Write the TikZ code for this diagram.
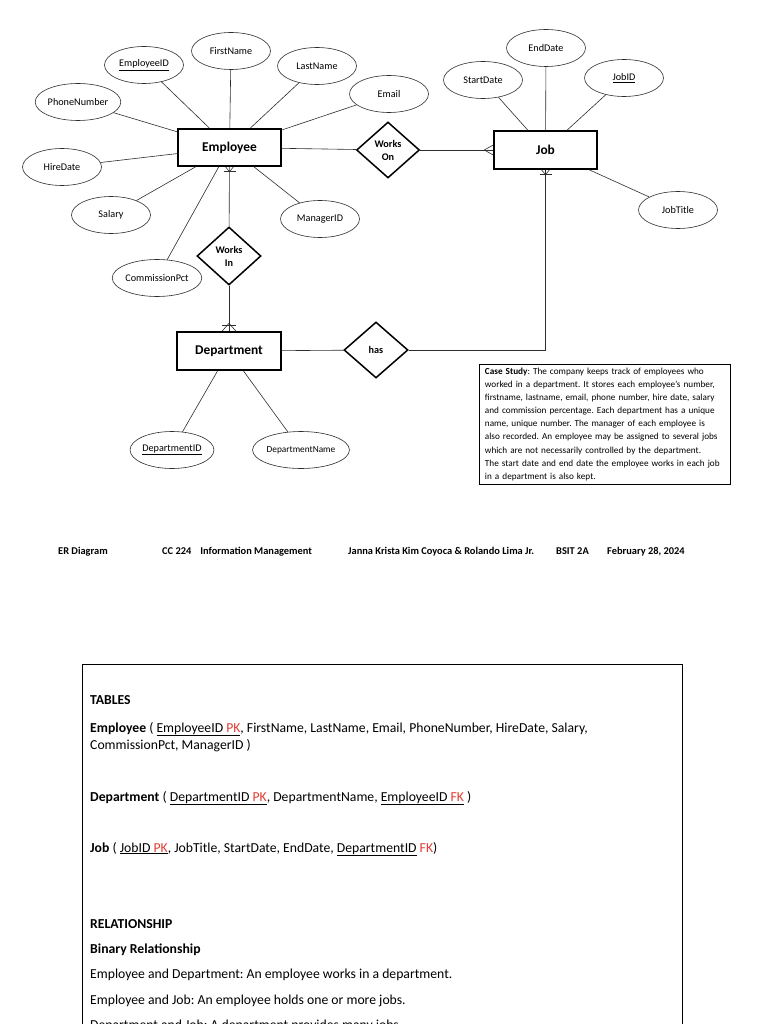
\documentclass[tikz,border=0pt]{standalone}
\usepackage{fontspec}
\setmainfont{Carlito}
\usepackage{xcolor}
\definecolor{pkred}{RGB}{226,62,52}
\definecolor{lineblack}{RGB}{45,45,45}
\usetikzlibrary{shapes.geometric,positioning}
\frenchspacing

\begin{document}
\begin{tikzpicture}[x=1pt,y=-1pt,
  entity/.style={
    rectangle, draw, line width=1.5pt,
    minimum width=103pt, minimum height=37pt,
    font=\fontsize{13.4}{15}\selectfont\bfseries
  },
  attr/.style={
    ellipse, draw=lineblack, line width=0.6pt,
    minimum width=79pt, minimum height=37pt, inner sep=0pt,
    font=\fontsize{10.2}{12}\selectfont
  },
  rel/.style={
    diamond, draw, line width=1.5pt,
    minimum width=64pt, minimum height=56pt, inner sep=0pt,
    align=center, font=\fontsize{10.2}{13}\selectfont\bfseries
  },
  conn/.style={draw=lineblack, line width=0.6pt},
  footer/.style={font=\fontsize{10.4}{12}\selectfont\bfseries, anchor=base west, inner sep=0pt},
  body/.style={font=\fontsize{13.7}{16}\selectfont, anchor=base west, inner sep=0pt}
]
\clip (0,0) rectangle (768,1024);
\fill[white] (0,0) rectangle (768,1024);

% entities
\node[entity] (emp)  at (229.5,147.5) {Employee};
\node[entity, minimum height=38pt] (job)  at (545.5,150) {Job};
\node[entity, minimum width=104pt, minimum height=38pt] (dept) at (229,351) {Department};

% relationships
\node[rel, minimum width=63pt] (workson) at (388,150) {Works\\On};
\node[rel, minimum height=58pt] (worksin) at (229,256) {Works\\In};
\node[rel, font=\fontsize{10.2}{13}\selectfont] (has) at (376,350) {\textbf{has}};

% attributes of Employee
\node[attr] (empid)   at (144,65)  {\underline{EmployeeID}};
\node[attr] (fname)   at (231,51)  {FirstName};
\node[attr] (lname)   at (317,66)  {LastName};
\node[attr] (email)   at (389,94)  {Email};
\node[attr] (phone)   at (78,102)  {PhoneNumber};
\node[attr] (hire)    at (62,167)  {HireDate};
\node[attr] (salary)  at (111,215) {Salary};
\node[attr] (commpct) at (157,278) {CommissionPct};
\node[attr] (mgrid)   at (320,219) {ManagerID};

% attributes of Job
\node[attr] (start)    at (483,80)  {StartDate};
\node[attr] (end)      at (546,48)  {EndDate};
\node[attr] (jobid)    at (624,78)  {\underline{JobID}};
\node[attr] (jobtitle) at (678,210) {JobTitle};

% attributes of Department
\node[attr] (deptid)   at (172,450) {\underline{DepartmentID}};
\node[attr, font=\fontsize{9.3}{11}\selectfont] (deptname) at (301,450) {DepartmentName};

\foreach \a in {empid,fname,lname,email,phone,hire,salary,commpct,mgrid}
  \draw[conn] (\a) -- (emp);
\foreach \a in {start,end,jobid,jobtitle}
  \draw[conn] (\a) -- (job);
\foreach \a in {deptid,deptname}
  \draw[conn] (\a) -- (dept);

% relationship lines
\draw[conn] (emp) -- (workson);
\draw[conn] (workson) -- (job);
\draw[conn] (worksin) -- (emp);
\draw[conn] (worksin) -- (dept);
\draw[conn] (dept) -- (has);
\draw[conn] (has) -| (job);

% cardinality marks
\draw[conn] ([xshift=-9pt]job.west) -- ([yshift=5pt]job.west);
\draw[conn] ([xshift=-9pt]job.west) -- ([yshift=-5pt]job.west);
\draw[conn] ([xshift=-6pt,yshift=-5pt]emp.south) -- ([xshift=6pt,yshift=-5pt]emp.south);
\draw[conn] ([yshift=-5pt]emp.south) -- ([xshift=-4pt]emp.south);
\draw[conn] ([yshift=-5pt]emp.south) -- ([xshift=4pt]emp.south);
\draw[conn] ([xshift=-6pt,yshift=-5pt]job.south) -- ([xshift=6pt,yshift=-5pt]job.south);
\draw[conn] ([yshift=-5pt]job.south) -- ([xshift=-4pt]job.south);
\draw[conn] ([yshift=-5pt]job.south) -- ([xshift=4pt]job.south);
\draw[conn] ([xshift=-7pt,yshift=6pt]dept.north) -- ([xshift=7pt,yshift=6pt]dept.north);
\draw[conn] ([yshift=8pt]dept.north) -- ([xshift=-7pt]dept.north);
\draw[conn] ([yshift=8pt]dept.north) -- ([xshift=7pt]dept.north);

% case study
\node[draw, line width=0.9pt, anchor=north west, text width=240pt, inner xsep=5.5pt, inner ysep=3.5pt,
  align=left, font=\fontsize{9.2}{13.1}\selectfont] (casestudy) at (479,364)
  {\textbf{Case Study}: The company keeps track of employees who\\
   worked in a department. It stores each employee’s number,\\
   firstname, lastname, email, phone number, hire date, salary\\
   and commission percentage. Each department has a unique\\
   name, unique number. The manager of each employee is\\
   also recorded. An employee may be assigned to several jobs\\
   which are not necessarily controlled by the department.\\
   The start date and end date the employee works in each job\\
   in a department is also kept.};

% footer line
\node[footer] (ftitle)  at (58,554)  {ER Diagram};
\node[footer] (fcourse) at (162,554) {CC 224\hspace{9pt}Information Management};
\node[footer] (fnames)  at (348,554) {Janna Krista Kim Coyoca \& Rolando Lima Jr.};
\node[footer] (fsect)   at (556,554) {BSIT 2A};
\node[footer] (fdate)   at (607,554) {February 28, 2024};

% tables box
\draw[line width=0.9pt] (82,664) rectangle (682,1040);
\node[body, font=\fontsize{13.7}{16}\selectfont\bfseries] (tabhdr) at (90,704) {TABLES};
\node[body] (tabemp) at (90,732)
  {\textbf{Employee} ( \underline{EmployeeID \textcolor{pkred}{PK}}, FirstName, LastName, Email, PhoneNumber, HireDate, Salary,};
\node[body] (tabemp2) at (90,749) {CommissionPct, ManagerID )};
\node[body] (tabdept) at (90,801)
  {\textbf{Department} ( \underline{DepartmentID \textcolor{pkred}{PK}}, DepartmentName, \underline{EmployeeID \textcolor{pkred}{FK}} )};
\node[body] (tabjob) at (90,852)
  {\textbf{Job} ( \underline{JobID \textcolor{pkred}{PK}}, JobTitle, StartDate, EndDate, \underline{DepartmentID} \textcolor{pkred}{FK})};
\node[body, font=\fontsize{13.7}{16}\selectfont\bfseries] (relhdr) at (90,928) {RELATIONSHIP};
\node[body, font=\fontsize{13.7}{16}\selectfont\bfseries] (binhdr) at (90,953) {Binary Relationship};
\node[body] (rel1) at (90,978) {Employee and Department: An employee works in a department.};
\node[body] (rel2) at (90,1004) {Employee and Job: An employee holds one or more jobs.};
\node[body] (rel3) at (90,1029) {Department and Job: A department provides many jobs.};
\end{tikzpicture}
\end{document}
